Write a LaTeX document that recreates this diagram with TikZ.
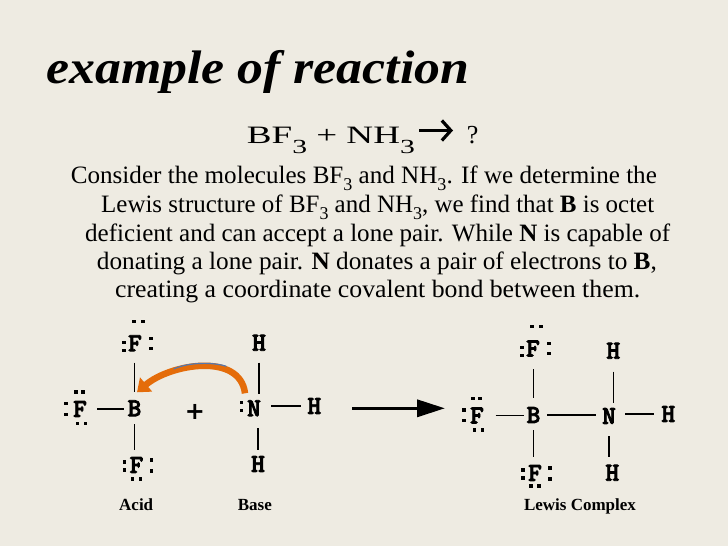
\documentclass[tikz,border=0pt]{standalone}
\usepackage{fontspec}
\setmainfont{Liberation Serif}
\newfontfamily\dejav{DejaVu Sans}
\newfontfamily\monob{lmmonolt10-bold.otf}[FakeBold=3]
\usetikzlibrary{arrows.meta}
\definecolor{bgc}{RGB}{238,235,226}
\definecolor{arrowor}{RGB}{228,108,10}
\definecolor{edgeblue}{RGB}{84,120,175}
\newcommand{\sbs}[1]{\raisebox{-0.3em}[0pt][0pt]{\fontsize{18}{18}\selectfont #1}}
\newcommand{\eqsub}[1]{\raisebox{-0.4em}[0pt][0pt]{\fontsize{20}{20}\selectfont #1}}
\newcommand{\edot}[3]{\fill ([shift={(#2,#3)}]#1.center) +(-1.7,-1.7) rectangle +(1.7,1.7);}
\tikzset{
  atom/.style={font=\monob\fontsize{26}{26}\selectfont, inner sep=0pt},
  bond/.style={draw=black, line width=1.2pt},
  para/.style={anchor=base west, inner sep=0pt, font=\fontsize{25}{30}\selectfont},
  lbl/.style={anchor=base, inner sep=0pt, font=\bfseries\fontsize{17}{17}\selectfont},
}
\begin{document}
\begin{tikzpicture}[x=1pt,y=-1pt]
\fill[bgc] (0,0) rectangle (728,546);
\useasboundingbox (0,0) rectangle (728,546);

% title and equation
\node[anchor=base west, inner sep=0pt, font=\bfseries\itshape\fontsize{47}{50}\selectfont] (title) at (46,83.3)
  {\resizebox{423pt}{\height}{example of reaction}};
\node[anchor=base west, inner sep=0pt, font=\fontsize{25}{30}\selectfont] (eqL) at (246.7,143.3)
  {\resizebox{168pt}{\height}{BF\eqsub{3} + NH\eqsub{3}}};
\node[anchor=base west, inner sep=0pt, font=\fontsize{26}{30}\selectfont] (eqR) at (466.7,143.3) {?};
\coordinate (ea1) at (419,130.5);
\coordinate (ea2) at (453,130.5);
\draw[line width=3.2pt, -{Straight Barb[length=9pt,width=20pt,line width=3.2pt]}] (ea1) -- (ea2);

% paragraph
\node[para] (p1) at (70.7,183.3) {\resizebox{586pt}{\height}{Consider the molecules BF\sbs{3} and NH\sbs{3}. If we determine the}};
\node[para] (p2) at (101,212.3) {\resizebox{553pt}{\height}{Lewis structure of BF\sbs{3} and NH\sbs{3}, we find that \textbf{B} is octet}};
\node[para] (p3) at (85,241) {\resizebox{585pt}{\height}{deficient and can accept a lone pair. While \textbf{N} is capable of}};
\node[para] (p4) at (96.7,269.3) {\resizebox{560pt}{\height}{donating a lone pair. \textbf{N} donates a pair of electrons to \textbf{B},}};
\node[para] (p5) at (115,297.7) {\resizebox{525pt}{\height}{creating a coordinate covalent bond between them.}};

% left molecules
\node[atom] (Ft1) at (135,343.3) {F};
\node[atom] (B1) at (134.5,408.3) {B};
\node[atom] (Fl1) at (80,409) {F};
\node[atom] (Fb1) at (136.5,465) {F};
\node[font=\dejav\bfseries\fontsize{24}{24}\selectfont, inner sep=0pt] (plus) at (195,411.7) {+};
\node[atom] (N1) at (254,408.3) {N};
\node[atom] (Ht1) at (259,342.7) {H};
\node[atom] (Hr1) at (314.3,406) {H};
\node[atom] (Hb1) at (258,464) {H};

\draw[bond, shorten <=19.4pt, shorten >=16.6pt] (B1.center |- Ft1.center) -- (B1.center);
\draw[bond, shorten <=15.7pt, shorten >=15pt] (B1.center) -- (B1.center |- Fb1.center);
\draw[bond, shorten <=17.3pt, shorten >=10.5pt] (Fl1.center) -- (Fl1.center -| B1.center);
\draw[bond, shorten <=20pt, shorten >=14.3pt] (Ht1.center) -- (Ht1.center |- N1.center);
\draw[bond, shorten <=17pt, shorten >=13.6pt] (Hr1.center -| N1.center) -- (Hr1.center);
\draw[bond, shorten <=20pt, shorten >=14pt] (Hb1.center |- N1.center) -- (Hb1.center);

% lone pairs left
\edot{Ft1}{-1}{-22}\edot{Ft1}{8}{-22}
\edot{Ft1}{-11}{-1}\edot{Ft1}{-11}{7}
\edot{Ft1}{16}{-5}\edot{Ft1}{16}{5}
\edot{Fb1}{-12}{-3}\edot{Fb1}{-12}{5}
\edot{Fb1}{15}{-5}\edot{Fb1}{15}{6}
\edot{Fb1}{-4}{14}\edot{Fb1}{4}{14}
\edot{Fl1}{-4}{-17}\edot{Fl1}{3}{-17}
\edot{Fl1}{-2.5}{14.5}\edot{Fl1}{5.5}{14.5}
\edot{Fl1}{-14}{-5.5}\edot{Fl1}{-14}{5.5}
\edot{N1}{-12.3}{-6}\edot{N1}{-12.3}{2}

% curved electron-pair arrow
\draw[arrowor, line width=6.5pt, -{Triangle[length=12pt,width=18pt]}]
  ([shift={(-9,-15)}]N1.center) .. controls (240,352) and (170,364) .. ([shift={(2.5,-16)}]B1.center);
\draw[edgeblue, line width=1.2pt, line cap=round] (226,366.2) .. controls (214,362.3) and (190,361.8) .. (174,368.8);

% reaction arrow
\coordinate (ra1) at (352,408.3);
\coordinate (ra2) at (445,408.3);
\draw[line width=3.5pt, -{Triangle[length=28pt,width=17pt]}] (ra1) -- (ra2);

% right complex
\node[atom] (Ft2) at (533,348.5) {F};
\node[atom] (B2) at (533.5,415) {B};
\node[atom] (Fl2) at (477,415.5) {F};
\node[atom] (Fb2) at (535,473) {F};
\node[atom] (N2) at (609,416) {N};
\node[atom] (Hr2) at (668.3,414) {H};
\node[atom] (Ht2) at (613.3,350.7) {H};
\node[atom] (Hb2) at (612.3,472.7) {H};

\draw[bond, shorten <=20.8pt, shorten >=16.7pt] (B2.center |- Ft2.center) -- (B2.center);
\draw[bond, shorten <=15pt, shorten >=16.3pt] (B2.center) -- (B2.center |- Fb2.center);
\draw[bond, shorten <=18.7pt, shorten >=9.5pt] (Fl2.center) -- (Fl2.center -| B2.center);
\draw[bond, shorten <=13.8pt, shorten >=13pt] (B2.center) -- (B2.center -| N2.center);
\draw[bond, shorten <=16pt, shorten >=14.3pt] (Hr2.center -| N2.center) -- (Hr2.center);
\draw[bond, shorten <=21pt, shorten >=13.3pt] (Ht2.center) -- (Ht2.center |- N2.center);
\draw[bond, shorten <=20pt, shorten >=16pt] (N2.center) -- (N2.center |- Hb2.center);

\edot{Ft2}{-1}{-22}\edot{Ft2}{8}{-22}
\edot{Ft2}{-11}{-1}\edot{Ft2}{-11}{7}
\edot{Ft2}{16}{-5}\edot{Ft2}{16}{5}
\edot{Fb2}{-12}{-3}\edot{Fb2}{-12}{5}
\edot{Fb2}{15}{-5}\edot{Fb2}{15}{6}
\edot{Fb2}{-4}{13}\edot{Fb2}{4}{13}
\edot{Fl2}{-4}{-17}\edot{Fl2}{3}{-17}
\edot{Fl2}{-2.5}{14.5}\edot{Fl2}{5.5}{14.5}
\edot{Fl2}{-13}{-5.5}\edot{Fl2}{-13}{5}

% labels
\node[lbl] (acid) at (136.2,510.7) {Acid};
\node[lbl] (base) at (254.8,510.7) {Base};
\node[lbl] (lewis) at (580,510) {Lewis Complex};
\end{tikzpicture}
\end{document}
